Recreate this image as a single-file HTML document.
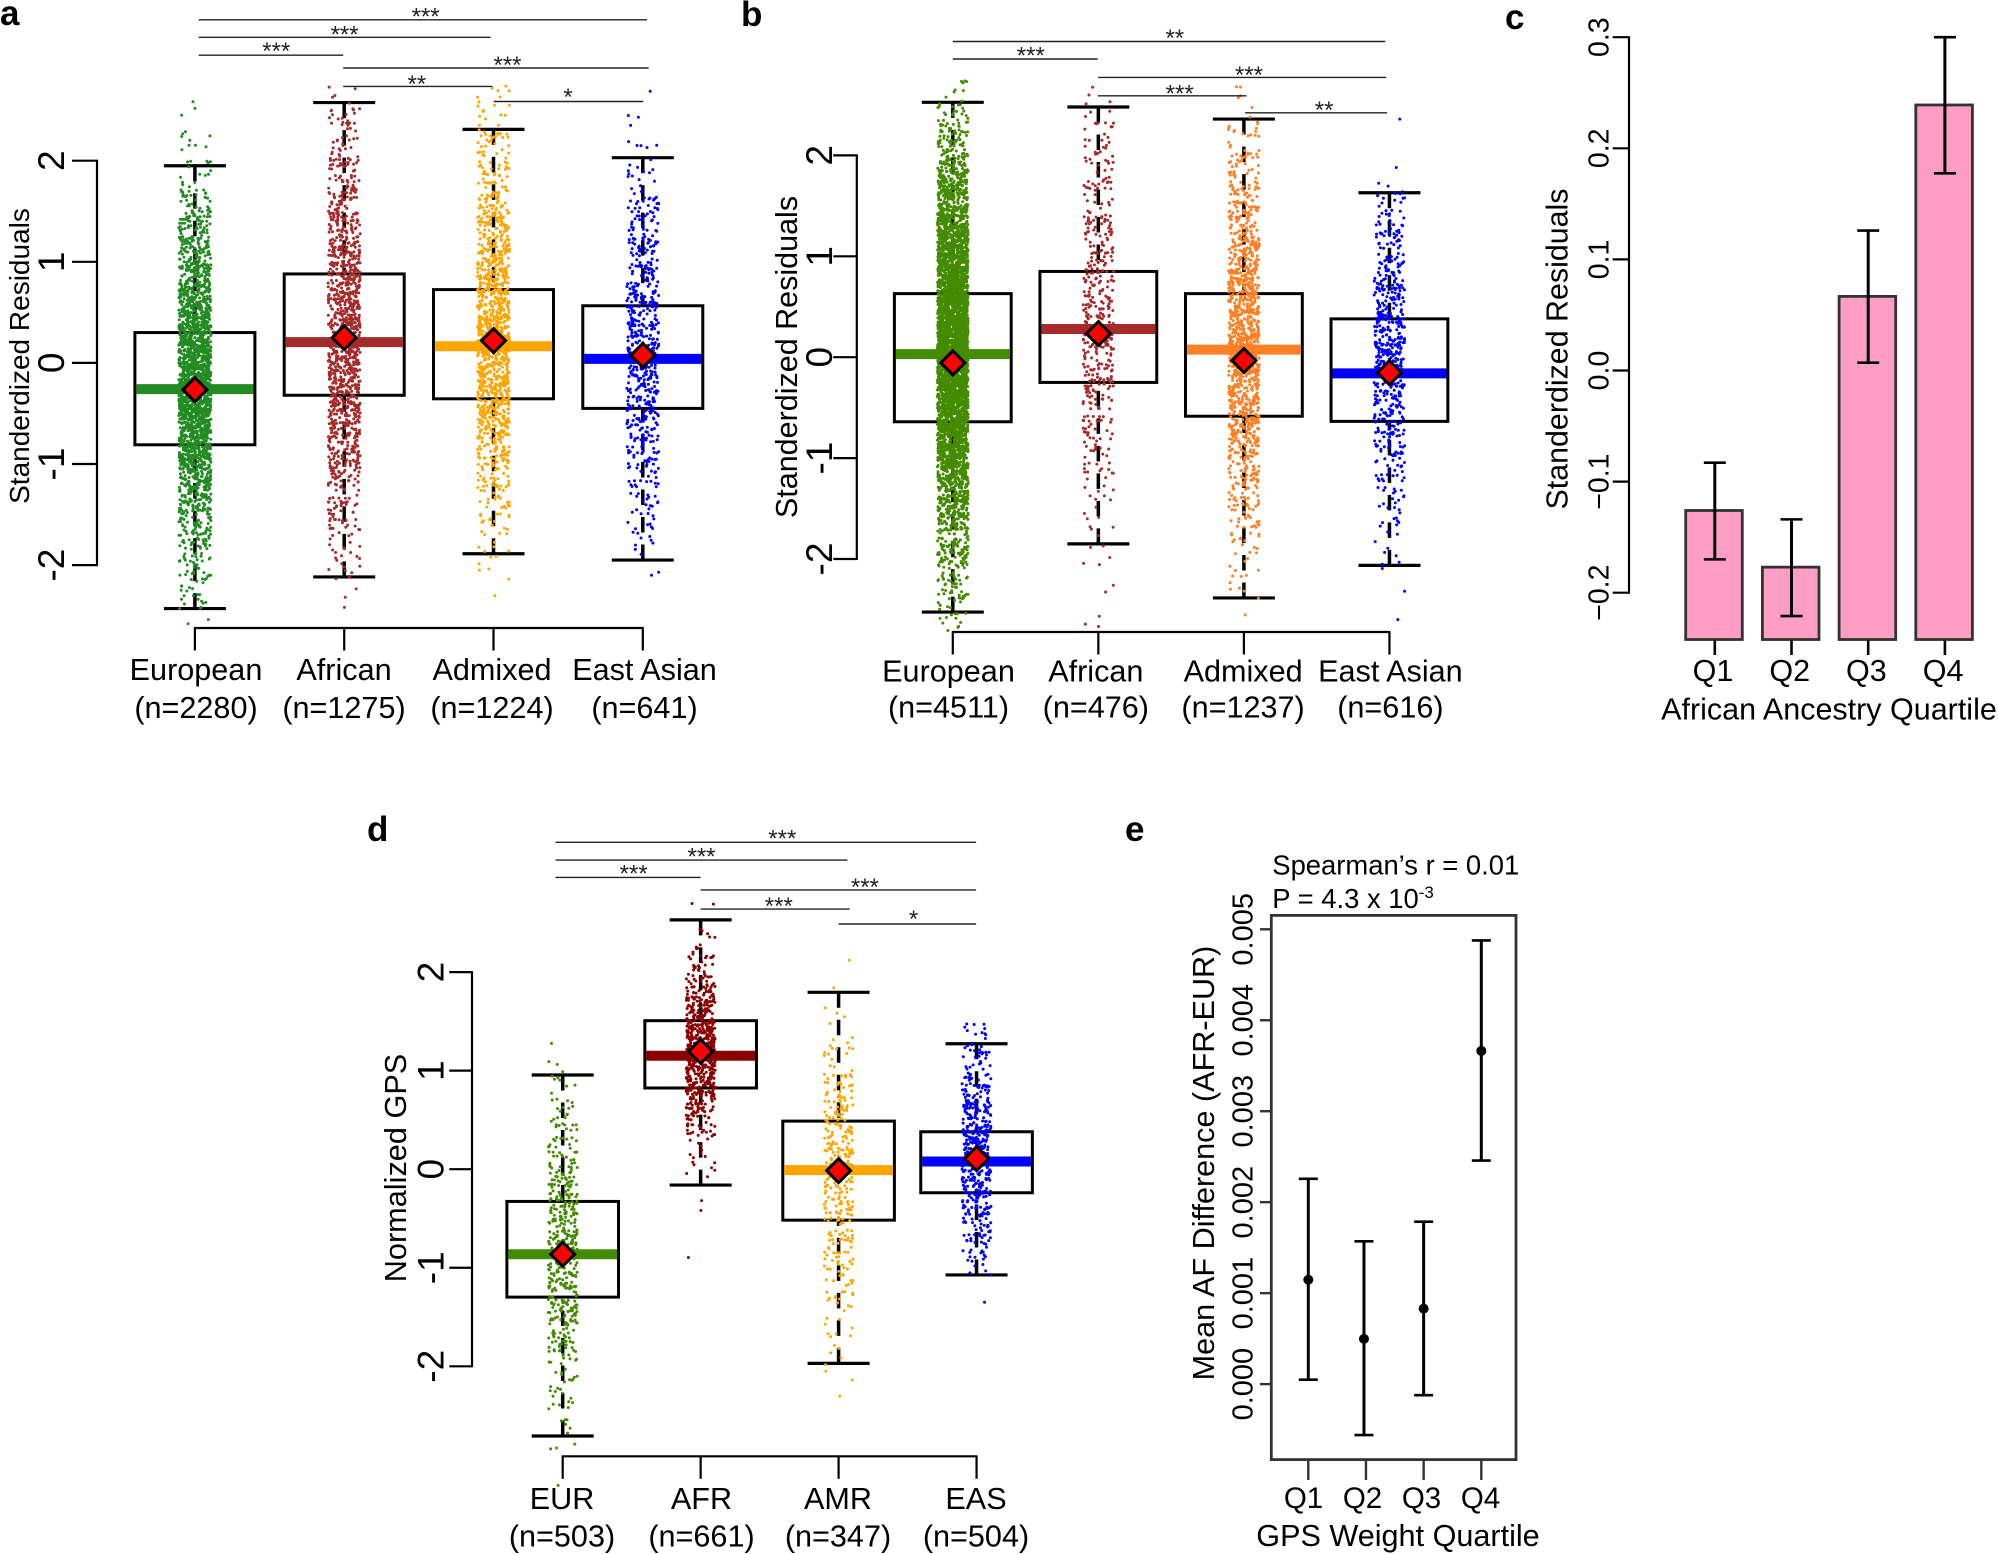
<!DOCTYPE html>
<html lang="en">
<head>
<meta charset="utf-8">
<title>Residuals and GPS by ancestry</title>
<style>
html,body{margin:0;padding:0;background:#fff;}
svg{display:block;font-family:"Liberation Sans",Arial,sans-serif;}
.star{font-size:24px;fill:#222;text-anchor:middle;transform:translateY(-2px);}
.sig{stroke:#222;stroke-width:1.4;}
.letter{font-size:35px;font-weight:bold;fill:#000;}
.title{font-size:28px;fill:#000;text-anchor:middle;}
</style>
</head>
<body>
<svg id="fig" xmlns="http://www.w3.org/2000/svg" width="1998" height="1554" viewBox="0 0 1998 1554">
<rect x="0" y="0" width="1998" height="1554" fill="#fff"/>
<defs>
<clipPath id="clipA"><rect x="0" y="0" width="760" height="629"/></clipPath>
<clipPath id="clipB"><rect x="760" y="0" width="740" height="633"/></clipPath>
</defs>

<g id="panelA"></g>
<g id="panelB"></g>
<g id="panelC"></g>
<g id="panelD"></g>
<g id="panelE"></g>

<text class="letter" x="0" y="25">a</text>
<text class="letter" x="741" y="26">b</text>
<text class="letter" x="1505" y="29">c</text>
<text class="letter" x="367" y="841">d</text>
<text class="letter" x="1125" y="841">e</text>

<text class="title" transform="translate(29 356) rotate(-90)">Standerdized Residuals</text>
<text class="title" style="font-size:30.5px" transform="translate(797 357) rotate(-90)">Standerdized Residuals</text>
<text class="title" style="font-size:30.4px" transform="translate(1567.7 349) rotate(-90)">Standerdized Residuals</text>
<text class="title" style="font-size:30.7px" transform="translate(406 1168) rotate(-90)">Normalized GPS</text>
<text class="title" style="font-size:30.6px" transform="translate(1214 1163) rotate(-90)">Mean AF Difference (AFR-EUR)</text>
<text class="title" style="font-size:30.5px" x="1829" y="719.7">African Ancestry Quartile</text>
<text class="title" style="font-size:30.6px" x="1398" y="1546">GPS Weight Quartile</text>
<text x="1272.3" y="874.5" font-size="27.4">Spearman’s r = 0.01</text>
<text x="1272.3" y="908" font-size="27.4">P = 4.3 x 10<tspan font-size="17" dy="-10">-3</tspan></text>

<g>
<line class="sig" x1="198.7" x2="647.1" y1="19.8" y2="19.8"/>
<text class="star" x="425.6" y="26.6">***</text>
<line class="sig" x1="198.7" x2="490.5" y1="37.3" y2="37.3"/>
<text class="star" x="344.6" y="44.4">***</text>
<line class="sig" x1="198.7" x2="343.2" y1="55.2" y2="55.2"/>
<text class="star" x="276.3" y="61">***</text>
<line class="sig" x1="343.2" x2="648.6" y1="68" y2="68"/>
<text class="star" x="507.5" y="75.1">***</text>
<line class="sig" x1="343.2" x2="492.3" y1="86.4" y2="86.4"/>
<text class="star" x="416.9" y="94">**</text>
<line class="sig" x1="493.7" x2="643.2" y1="101.5" y2="101.5"/>
<text class="star" x="568.1" y="106.8">*</text>
</g>
<g>
<line class="sig" x1="952.8" x2="1385.2" y1="41.5" y2="41.5"/>
<text class="star" x="1174.8" y="47.8">**</text>
<line class="sig" x1="952.8" x2="1097.7" y1="59" y2="59"/>
<text class="star" x="1030.8" y="65.7">***</text>
<line class="sig" x1="1098.2" x2="1386.1" y1="77.4" y2="77.4"/>
<text class="star" x="1249" y="85.1">***</text>
<line class="sig" x1="1097.7" x2="1246.5" y1="95.8" y2="95.8"/>
<text class="star" x="1179.7" y="103.5">***</text>
<line class="sig" x1="1245.1" x2="1387.1" y1="112.8" y2="112.8"/>
<text class="star" x="1324.1" y="120">**</text>
</g>
<g>
<line class="sig" x1="555.5" x2="976.1" y1="842.3" y2="842.3"/>
<text class="star" x="782.3" y="848.4">***</text>
<line class="sig" x1="555.5" x2="847.5" y1="860.1" y2="860.1"/>
<text class="star" x="701.5" y="866.7">***</text>
<line class="sig" x1="555.5" x2="700.6" y1="877.4" y2="877.4"/>
<text class="star" x="633.7" y="883.5">***</text>
<line class="sig" x1="700.6" x2="976.1" y1="889.9" y2="889.9"/>
<text class="star" x="864.9" y="897">***</text>
<line class="sig" x1="700.6" x2="849.7" y1="909.1" y2="909.1"/>
<text class="star" x="778.8" y="916.2">***</text>
<line class="sig" x1="838.6" x2="976.1" y1="924" y2="924"/>
<text class="star" x="913.6" y="929.2">*</text>
</g>
</svg>

<script>
// ---------- Panel a data ----------
const aCategories = ['European', 'African', 'Admixed', 'East Asian'];
const aSampleLabels = ['(n=2280)', '(n=1275)', '(n=1224)', '(n=641)'];
const aQ1 = [-0.81, -0.32, -0.355, -0.45];
const aMedian = [-0.26, 0.205, 0.165, 0.04];
const aQ3 = [0.30, 0.88, 0.725, 0.565];
const aMean = [-0.265, 0.25, 0.22, 0.075];
const aWhiskerLow = [-2.43, -2.117, -1.888, -1.95];
const aWhiskerHigh = [1.95, 2.575, 2.31, 2.03];
const aTicks = [-2, -1, 0, 1, 2];
// estimated dot counts per 0.25-wide residual bin, starting at -2.75
const aBinCountsEuropean = [3,14,24,40,60,95,140,190,235,270,275,240,200,160,125,90,60,35,14,7,3,2];
const aBinCountsAfrican = [1,2,8,14,24,34,50,68,88,105,118,125,122,115,100,85,68,50,36,28,20,8];
const aBinCountsAdmixed = [0,1,3,8,16,24,40,60,85,105,125,130,130,120,100,82,64,48,34,24,15,10];
const aBinCountsEastAsian = [0,0,2,5,12,18,26,36,48,60,68,70,66,60,50,42,30,24,12,6,3,1];

// ---------- Panel b data ----------
const bCategories = ['European', 'African', 'Admixed', 'East Asian'];
const bSampleLabels = ['(n=4511)', '(n=476)', '(n=1237)', '(n=616)'];
const bQ1 = [-0.64, -0.25, -0.585, -0.636];
const bMedian = [0.03, 0.28, 0.075, -0.16];
const bQ3 = [0.63, 0.85, 0.63, 0.38];
const bMean = [-0.056, 0.234, -0.033, -0.154];
const bWhiskerLow = [-2.526, -1.85, -2.386, -2.063];
const bWhiskerHigh = [2.526, 2.48, 2.36, 1.63];
const bTicks = [-2, -1, 0, 1, 2];
const bBinCountsEuropean = [12,30,48,75,105,150,210,270,335,390,430,440,430,395,340,280,210,150,100,60,32,12];
const bBinCountsAfrican = [3,2,2,4,6,9,14,19,27,34,44,46,44,42,40,33,28,24,16,14,11,4];
const bBinCountsAdmixed = [1,4,8,16,24,36,50,70,95,105,120,130,120,115,95,80,60,45,30,18,8,4];
const bBinCountsEastAsian = [1,1,3,5,10,16,24,36,48,65,76,82,72,60,42,32,20,12,1,0,1,0];

// ---------- Panel c data ----------
const cCategories = ['Q1', 'Q2', 'Q3', 'Q4'];
const cValues = [-0.126, -0.177, 0.0667, 0.239];
const cErrorLow = [-0.17, -0.221, 0.007, 0.1775];
const cErrorHigh = [-0.083, -0.134, 0.126, 0.30];
const cTickValues = [-0.2, -0.1, 0, 0.1, 0.2, 0.3];
const cTickLabels = ['\u22120.2', '\u22120.1', '0.0', '0.1', '0.2', '0.3'];

// ---------- Panel d data ----------
const dCategories = ['EUR', 'AFR', 'AMR', 'EAS'];
const dSampleLabels = ['(n=503)', '(n=661)', '(n=347)', '(n=504)'];
const dQ1 = [-1.298, 0.824, -0.517, -0.239];
const dMedian = [-0.863, 1.151, -0.01, 0.078];
const dQ3 = [-0.327, 1.507, 0.488, 0.38];
const dMean = [-0.863, 1.195, -0.015, 0.107];
const dWhiskerLow = [-2.707, -0.161, -1.97, -1.073];
const dWhiskerHigh = [0.956, 2.53, 1.795, 1.273];
const dTicks = [-2, -1, 0, 1, 2];
// estimated dot counts per 0.25-wide bin, starting at -3.25
const dBinCountsEUR = [1,3,6,10,14,26,38,48,58,68,60,56,42,28,20,14,8,2,1,0,0,0,0,0];
const dBinCountsAFR = [0,0,0,0,0,0,0,0,0,1,0,2,3,10,25,60,105,150,135,90,45,25,7,2];
const dBinCountsAMR = [0,0,0,1,2,5,8,12,18,24,30,38,42,42,42,35,25,12,5,3,1,1,0,0];
const dBinCountsEAS = [0,0,0,0,0,0,0,1,3,18,36,55,75,85,85,65,40,26,14,0,0,0,0,0];

// ---------- Panel e data ----------
const eCategories = ['Q1', 'Q2', 'Q3', 'Q4'];
const eValues = [0.001147, 0.000497, 0.00083, 0.003663];
const eErrorLow = [0.000048, -0.00056, -0.000122, 0.002458];
const eErrorHigh = [0.002257, 0.00157, 0.001786, 0.004878];
const eTickValues = [0, 0.001, 0.002, 0.003, 0.004, 0.005];
const eTickLabels = ['0.000', '0.001', '0.002', '0.003', '0.004', '0.005'];

// ---------- drawing helpers ----------
const NS = 'http://www.w3.org/2000/svg';
function make(parent, tag, attrs) {
  const el = document.createElementNS(NS, tag);
  for (const k in attrs) el.setAttribute(k, attrs[k]);
  parent.appendChild(el);
  return el;
}
// fixed layout scatter for placing a bin's dots; it carries no data values
function scatter(n, seed) {
  const s = Math.sin(n * 12.9898 + seed * 78.233) * 43758.5453;
  return s - Math.floor(s);
}

function drawStrip(root, counts, firstEdge, cx, halfW, color, yScale, seed) {
  const g = make(root, 'g', { fill: color });
  
  
  let n = 0;
  counts.forEach(function (count, bin) {
    for (let k = 0; k < count; k++) {
      n++;
      const u = scatter(n, seed);
      const w = scatter(n + 0.5, seed + 3.1);
      const value = firstEdge + (bin + w) * 0.25;
      const dot = make(g, 'circle', { cx: (cx + (2 * u - 1) * halfW).toFixed(1), cy: yScale(value).toFixed(1), r: 1.5 });
      
      
    }
  });
}

function drawBox(root, cx, stats, color, cfg) {
  const y = cfg.y;
  const g = make(root, 'g', {});
  
  

  // whiskers are stroked from the cap toward the box, so the dash phase starts at the cap
  const wh = make(g, 'line', { x1: cx, x2: cx, y1: y(stats.high), y2: y(stats.q3), stroke: '#000', 'stroke-width': 3.5, 'stroke-dasharray': '15.5 12' });
  
  
  const wl = make(g, 'line', { x1: cx, x2: cx, y1: y(stats.low), y2: y(stats.q1), stroke: '#000', 'stroke-width': 3.5, 'stroke-dasharray': '15.5 12' });
  
  
  const ch = make(g, 'line', { x1: cx - 31, x2: cx + 31, y1: y(stats.high), y2: y(stats.high), stroke: '#000', 'stroke-width': 3.2 });
  
  
  const cl = make(g, 'line', { x1: cx - 31, x2: cx + 31, y1: y(stats.low), y2: y(stats.low), stroke: '#000', 'stroke-width': 3.2 });
  
  

  const box = make(g, 'rect', { x: cx - cfg.boxHalf, y: y(stats.q3), width: cfg.boxHalf * 2, height: y(stats.q1) - y(stats.q3), fill: 'none', stroke: '#000', 'stroke-width': 3 });
  
  
  const med = make(g, 'line', { x1: cx - cfg.boxHalf + 1.4, x2: cx + cfg.boxHalf - 1.4, y1: y(stats.median), y2: y(stats.median), stroke: color, 'stroke-width': 10 });
  
  
}

function drawMean(root, cx, my) {
  const d = 12;
  const dia = make(root, 'polygon', { points: [cx, my - d, cx + d, my, cx, my + d, cx - d, my].join(' '), fill: '#f00', stroke: '#000', 'stroke-width': 3 });
  
  
}

function drawYAxis(root, ticks, labels, y, axisX, tickLen, labelX, fontSize) {
  const g = make(root, 'g', {});
  
  
  const top = Math.min(y(ticks[0]), y(ticks[ticks.length - 1]));
  const bottom = Math.max(y(ticks[0]), y(ticks[ticks.length - 1]));
  const axis = make(g, 'line', { x1: axisX, x2: axisX, y1: top - 1, y2: bottom + 1, stroke: '#000', 'stroke-width': 2.2 });
  
  
  ticks.forEach(function (t, i) {
    const tick = make(g, 'line', { x1: axisX - tickLen, x2: axisX, y1: y(t), y2: y(t), stroke: '#000', 'stroke-width': 2.2 });
    
    
    const txt = make(g, 'text', { 'text-anchor': 'middle', 'font-size': fontSize, transform: 'translate(' + labelX + ' ' + y(t) + ') rotate(-90)' });
    txt.textContent = labels[i];
    
    
  });
}

function drawXLabels(root, x, names, lower, y1, y2, fontSize, lowerX) {
  names.forEach(function (name, i) {
    const a = make(root, 'text', { x: x(i), y: y1, 'text-anchor': 'middle', 'font-size': fontSize });
    a.textContent = name;
    
    
    if (lower) {
      const b = make(root, 'text', { x: (lowerX || x)(i), y: y2, 'text-anchor': 'middle', 'font-size': fontSize });
      b.textContent = lower[i];
      
      
    }
  });
}

function drawBoxPanel(root, cfg, d) {
  d.q1.forEach(function (_, i) {
    drawBox(root, cfg.x(i), { q1: d.q1[i], q3: d.q3[i], median: d.median[i], low: d.low[i], high: d.high[i] }, cfg.colors[i], cfg);
  });
  const plot = make(root, 'g', cfg.clip ? { 'clip-path': 'url(#' + cfg.clip + ')' } : {});
  
  
  d.bins.forEach(function (counts, i) {
    drawStrip(plot, counts, cfg.firstEdge, cfg.x(i), cfg.jitter, cfg.colors[i], cfg.y, 1.3 + i * 2.9);
  });
  d.mean.forEach(function (m, i) {
    drawMean(root, cfg.x(i), cfg.y(m));
  });
  drawYAxis(root, d.ticks, d.ticks.map(String), cfg.y, cfg.axisX, cfg.tickLen, cfg.labelX, 37);
  const xg = make(root, 'g', {});
  
  
  const line = make(xg, 'line', { x1: cfg.x(0) - 1, x2: cfg.x(3) + 1, y1: cfg.axisY, y2: cfg.axisY, stroke: '#000', 'stroke-width': 2.2 });
  
  
  d.categories.forEach(function (_, i) {
    const tk = make(xg, 'line', { x1: cfg.x(i), x2: cfg.x(i), y1: cfg.axisY, y2: cfg.axisY + 22.5, stroke: '#000', 'stroke-width': 2.2 });
    
    
  });
  drawXLabels(xg, cfg.labelPos, d.categories, d.samples, cfg.label1, cfg.label2, 30.6, cfg.lowerPos);
}

// ---------- panel a ----------
drawBoxPanel(document.getElementById('panelA'), {
  x: function (i) { return 194.9 + i * 149.3; },
  labelPos: function (i) { return i < 3 ? 196 + i * 148 : 644.5; },
  lowerPos: function (i) { return i < 3 ? 196 + i * 148 : 644.5; },
  y: function (v) { return 362.9 - 101.1 * v; },
  boxHalf: 60, jitter: 16, axisX: 97, tickLen: 25, labelX: 64, axisY: 628,
  label1: 680, label2: 718, firstEdge: -2.75, clip: 'clipA',
  colors: ['#228B22', '#A52A2A', '#FFA500', '#0000FF']
}, {
  categories: aCategories, samples: aSampleLabels, ticks: aTicks,
  q1: aQ1, q3: aQ3, median: aMedian, mean: aMean, low: aWhiskerLow, high: aWhiskerHigh,
  bins: [aBinCountsEuropean, aBinCountsAfrican, aBinCountsAdmixed, aBinCountsEastAsian]
});

// ---------- panel b ----------
drawBoxPanel(document.getElementById('panelB'), {
  x: function (i) { return 952.8 + i * 145.55; },
  labelPos: function (i) { return 948.5 + i * 147.3; },
  y: function (v) { return 357.2 - 100.9 * v; },
  boxHalf: 58.4, jitter: 15.3, axisX: 856.8, tickLen: 23.5, labelX: 832, axisY: 632,
  label1: 681.5, label2: 717.5, firstEdge: -2.75, clip: 'clipB',
  colors: ['#458B00', '#A52A2A', '#FF7F24', '#0000FF']
}, {
  categories: bCategories, samples: bSampleLabels, ticks: bTicks,
  q1: bQ1, q3: bQ3, median: bMedian, mean: bMean, low: bWhiskerLow, high: bWhiskerHigh,
  bins: [bBinCountsEuropean, bBinCountsAfrican, bBinCountsAdmixed, bBinCountsEastAsian]
});

// ---------- panel d ----------
drawBoxPanel(document.getElementById('panelD'), {
  x: function (i) { return 562.7 + i * 137.95; },
  labelPos: function (i) { return 562 + i * 138 + (i === 1 ? 1.5 : 0); },
  y: function (v) { return 1169.2 - 98.55 * v; },
  boxHalf: 55.8, jitter: 14.5, axisX: 472, tickLen: 22.7, labelX: 443.5, axisY: 1456.3,
  label1: 1509, label2: 1546.5, firstEdge: -3.25, clip: null,
  colors: ['#458B00', '#8B0000', '#FFA500', '#0000FF']
}, {
  categories: dCategories, samples: dSampleLabels, ticks: dTicks,
  q1: dQ1, q3: dQ3, median: dMedian, mean: dMean, low: dWhiskerLow, high: dWhiskerHigh,
  bins: [dBinCountsEUR, dBinCountsAFR, dBinCountsAMR, dBinCountsEAS]
});

// ---------- panel c ----------
(function () {
  const root = document.getElementById('panelC');
  const x = function (i) { return 1714 + i * 76.7; };
  const y = function (v) { return 370.5 - 1111 * v; };
  const base = 639.5;
  cValues.forEach(function (v, i) {
    const bar = make(root, 'rect', { x: x(i) - 28.3, y: y(v), width: 56.6, height: base - y(v), fill: '#FF9EC4', stroke: '#333', 'stroke-width': 2.8 });
    
    
    const err = make(root, 'line', { x1: x(i) + 0.8, x2: x(i) + 0.8, y1: y(cErrorLow[i]), y2: y(cErrorHigh[i]), stroke: '#000', 'stroke-width': 3 });
    
    
    const capTop = make(root, 'line', { x1: x(i) - 10.2, x2: x(i) + 11.8, y1: y(cErrorHigh[i]), y2: y(cErrorHigh[i]), stroke: '#000', 'stroke-width': 2.6 });
    
    
    const capLow = make(root, 'line', { x1: x(i) - 10.2, x2: x(i) + 11.8, y1: y(cErrorLow[i]), y2: y(cErrorLow[i]), stroke: '#000', 'stroke-width': 2.6 });
    
    
    const tk = make(root, 'line', { x1: x(i) + 0.8, x2: x(i) + 0.8, y1: base + 1, y2: base + 15.5, stroke: '#000', 'stroke-width': 2.6 });
    
    
  });
  drawYAxis(root, cTickValues, cTickLabels, y, 1629, 16.3, 1608.3, 28.5);
  drawXLabels(root, function (i) { return 1713 + i * 76.7; }, cCategories, null, 681, 0, 30.5);
})();

// ---------- panel e ----------
(function () {
  const root = document.getElementById('panelE');
  const x = function (i) { return 1308.3 + i * 57.67; };
  const y = function (v) { return 1384.1 - 90960 * v; };
  const frame = make(root, 'rect', { x: 1271.3, y: 915.4, width: 244.7, height: 544.2, fill: 'none', stroke: '#333', 'stroke-width': 2.8 });
  
  
  eTickValues.forEach(function (t, i) {
    const tk = make(root, 'line', { x1: 1260, x2: 1271.3, y1: y(t), y2: y(t), stroke: '#333', 'stroke-width': 2.4 });
    
    
    const txt = make(root, 'text', { 'text-anchor': 'middle', 'font-size': 29, transform: 'translate(1252.7 ' + y(t) + ') rotate(-90)' });
    txt.textContent = eTickLabels[i];
    
    
  });
  eValues.forEach(function (v, i) {
    const cx = x(i) - (i === 1 ? 2 : 0);
    const err = make(root, 'line', { x1: cx, x2: cx, y1: y(eErrorLow[i]), y2: y(eErrorHigh[i]), stroke: '#000', 'stroke-width': 3 });
    
    
    const capTop = make(root, 'line', { x1: cx - 9.5, x2: cx + 9.5, y1: y(eErrorHigh[i]), y2: y(eErrorHigh[i]), stroke: '#000', 'stroke-width': 2.6 });
    
    
    const capLow = make(root, 'line', { x1: cx - 9.5, x2: cx + 9.5, y1: y(eErrorLow[i]), y2: y(eErrorLow[i]), stroke: '#000', 'stroke-width': 2.6 });
    
    
    const pt = make(root, 'circle', { cx: cx, cy: y(v), r: 5, fill: '#000' });
    
    
    const tk = make(root, 'line', { x1: x(i), x2: x(i), y1: 1459.6, y2: 1480, stroke: '#333', 'stroke-width': 2.4 });
    
    
  });
  drawXLabels(root, function (i) { return 1303.5 + i * 59; }, eCategories, null, 1508, 0, 29.5);
})();
</script>
</body>
</html>
